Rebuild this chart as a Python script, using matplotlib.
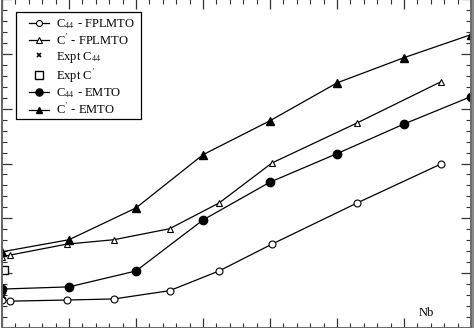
import matplotlib
matplotlib.use("Agg")
import matplotlib.pyplot as plt
from matplotlib.ticker import MultipleLocator
from matplotlib.patches import Rectangle

plt.rcParams['font.family'] = ['Liberation Serif', 'DejaVu Serif']
plt.rcParams['mathtext.fontset'] = 'stix'

# FPLMTO results
x_fp = [0.0, 0.12, 0.97, 1.67, 2.5, 3.24, 4.03, 5.3, 6.55]
c44_fp = [0.51, 0.49, 0.51, 0.53, 0.68, 1.04, 1.53, 2.28, 2.99]
cp_fp = [1.30, 1.33, 1.53, 1.61, 1.81, 2.28, 3.01, 3.74, 4.49]

# EMTO results
x_em = [0, 1, 2, 3, 4, 5, 6, 7]
c44_em = [0.71, 0.75, 1.04, 1.97, 2.66, 3.18, 3.72, 4.22]
cp_em = [1.39, 1.61, 2.19, 3.16, 3.78, 4.47, 4.93, 5.35]

# experiment
x_c44_ex, c44_ex = [0.01], [0.58]
x_cp_ex, cp_ex = [0.03], [1.06]

fig = plt.figure(figsize=(4.74, 3.28), dpi=100)
ax = fig.add_axes([2 / 474, 0.0, 469 / 474, 329 / 328])

ax.plot(x_fp, c44_fp, color='k', lw=0.9, marker='o', ms=5, mfc='white', mec='k',
        mew=0.8, label='C$_{44}$ - FPLMTO')
ax.plot(x_fp, cp_fp, color='k', lw=0.9, marker='^', ms=5, mfc='white', mec='k',
        mew=0.8, label="C$^{\\prime}$ - FPLMTO")
ax.plot(x_c44_ex, c44_ex, ls='none', marker='x', ms=4, mec='k', mew=1.2,
        label='Expt C$_{44}$')
ax.plot(x_cp_ex, cp_ex, ls='none', marker='s', ms=6, mfc='white', mec='k', mew=1.0,
        label="Expt C$^{\\prime}$")
ax.plot(x_em, c44_em, color='k', lw=0.9, marker='o', ms=6, mfc='k', mec='k',
        label='C$_{44}$ - EMTO')
ax.plot(x_em, cp_em, color='k', lw=0.9, marker='^', ms=5.5, mfc='k', mec='k',
        label="C$^{\\prime}$ - EMTO")

ax.set_xlim(0, 7)
ax.set_ylim(0, 6)
ax.xaxis.set_major_locator(MultipleLocator(1))
ax.xaxis.set_minor_locator(MultipleLocator(0.2))
ax.yaxis.set_major_locator(MultipleLocator(1))
ax.yaxis.set_minor_locator(MultipleLocator(0.2))
ax.tick_params(which='both', direction='in', top=True, right=True,
               labelbottom=False, labelleft=False, color='#333')
ax.tick_params(which='major', length=7.5, width=0.9)
ax.tick_params(which='minor', length=3.5, width=0.8)
for s in ax.spines.values():
    s.set_linewidth(1.4)
    s.set_color('#666')

ax.text(6.34, 0.27, 'Nb', fontsize=9, ha='center', va='center')

# legend box drawn by hand, legend itself frameless
box = Rectangle((16 / 474, 1 - 119 / 328), 125 / 474, 107 / 328,
                transform=fig.transFigure, facecolor='white', edgecolor='k',
                lw=0.9, zorder=4)
ax.add_patch(box)
leg = ax.legend(loc='upper left', bbox_to_anchor=(29 / 474, 1 - 17 / 328),
                bbox_transform=fig.transFigure, borderaxespad=0, borderpad=0,
                fontsize=9, frameon=False, handlelength=1.6, markerscale=0.85,
                handletextpad=0.6, labelspacing=0.15)
leg.set_zorder(5)

fig.patches.append(Rectangle((471.5 / 474, 0), 2.5 / 474, 1, transform=fig.transFigure,
                             color='#8a8a8a', zorder=10))

fig.savefig('out.png', dpi=100)
